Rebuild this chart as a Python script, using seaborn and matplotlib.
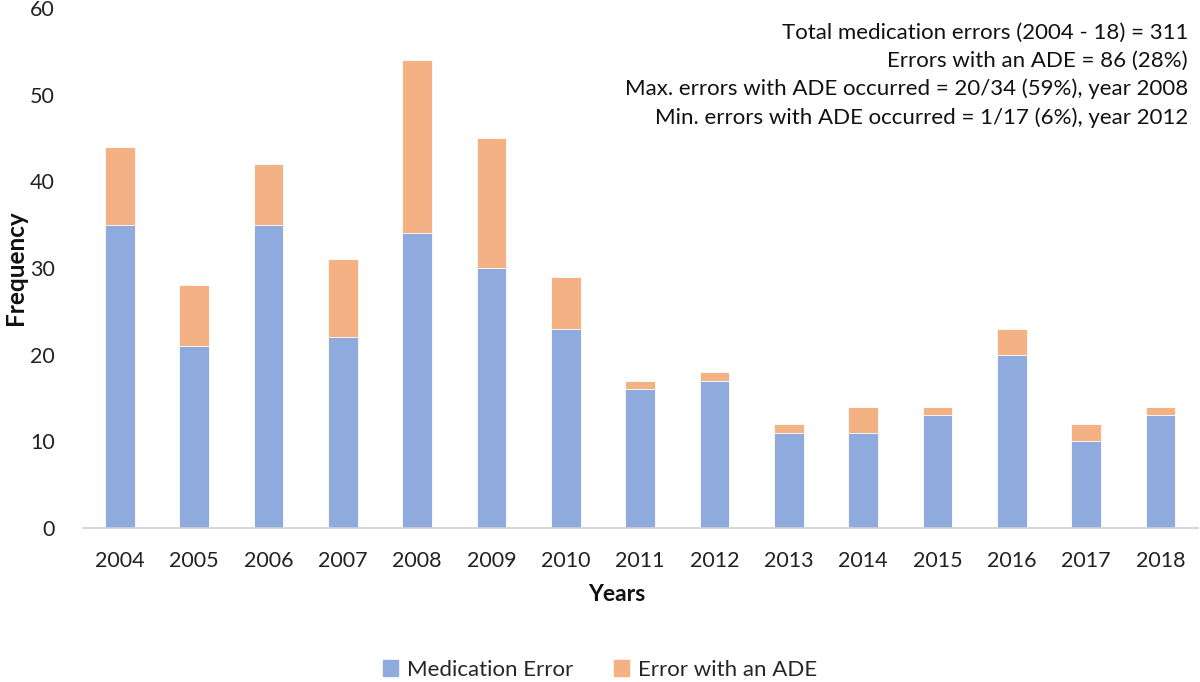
import pandas as pd
import matplotlib.pyplot as plt
import seaborn as sns
from matplotlib.patches import Patch

years = ['2004', '2005', '2006', '2007', '2008', '2009', '2010', '2011',
         '2012', '2013', '2014', '2015', '2016', '2017', '2018']
med_error = [35, 21, 35, 22, 34, 30, 23, 16, 17, 11, 11, 13, 20, 10, 13]
ade_error = [9, 7, 7, 9, 20, 15, 6, 1, 1, 1, 3, 1, 3, 2, 1]

notes = ['Total medication errors (2004 - 18) = 311',
         'Errors with an ADE = 86 (28%)',
         'Max. errors with ADE occurred = 20/34 (59%), year 2008',
         'Min. errors with ADE occurred = 1/17 (6%), year 2012']

blue = '#8FAADC'
orange = '#F4B183'

df = pd.DataFrame({'year': years, 'med': med_error, 'ade': ade_error})
df['total'] = df['med'] + df['ade']

sns.set_style('white')
plt.rcParams['font.family'] = ['Lato', 'DejaVu Sans']

fig = plt.figure(figsize=(12, 6.82), dpi=100)
ax = fig.add_axes([0.069, 0.226, 0.929, 0.762])

# stacked: draw totals in orange, then the blue part over it
sns.barplot(data=df, x='year', y='total', color=orange, saturation=1,
            width=0.4, edgecolor='white', linewidth=0.6, ax=ax)
sns.barplot(data=df, x='year', y='med', color=blue, saturation=1,
            width=0.4, edgecolor='white', linewidth=0.6, ax=ax)

ax.set_ylim(0, 60)
ax.set_xlim(-0.5, len(years) - 0.5)
ax.set_yticks(range(0, 61, 10))
ax.tick_params(axis='both', length=0, labelsize=15.5, colors='#222222')
ax.tick_params(axis='x', pad=17)
ax.tick_params(axis='y', pad=20)
sns.despine(ax=ax, left=True)
ax.spines['bottom'].set_color('#d0d0d0')
ax.spines['bottom'].set_linewidth(1.2)

ax.set_xlabel('Years', fontsize=16.5, fontweight='bold', color='#111111')
ax.set_ylabel('Frequency', fontsize=17.5, fontweight='bold', color='#111111')
ax.xaxis.set_label_coords(0.479, -0.108)
ax.yaxis.set_label_coords(-0.050, 0.5)

ax.text(0.9915, 0.972, '\n'.join(notes), transform=ax.transAxes,
        ha='right', va='top', fontsize=16, linespacing=1.48, color='#111111')

handles = [Patch(color=blue, label='Medication Error'),
           Patch(color=orange, label='Error with an ADE')]
fig.legend(handles=handles, loc='lower center', bbox_to_anchor=(0.5, -0.026),
           ncol=2, frameon=False, fontsize=16, handlelength=0.7,
           handleheight=0.7, columnspacing=1.8, handletextpad=0.4)

fig.savefig('out.png', dpi=100)
